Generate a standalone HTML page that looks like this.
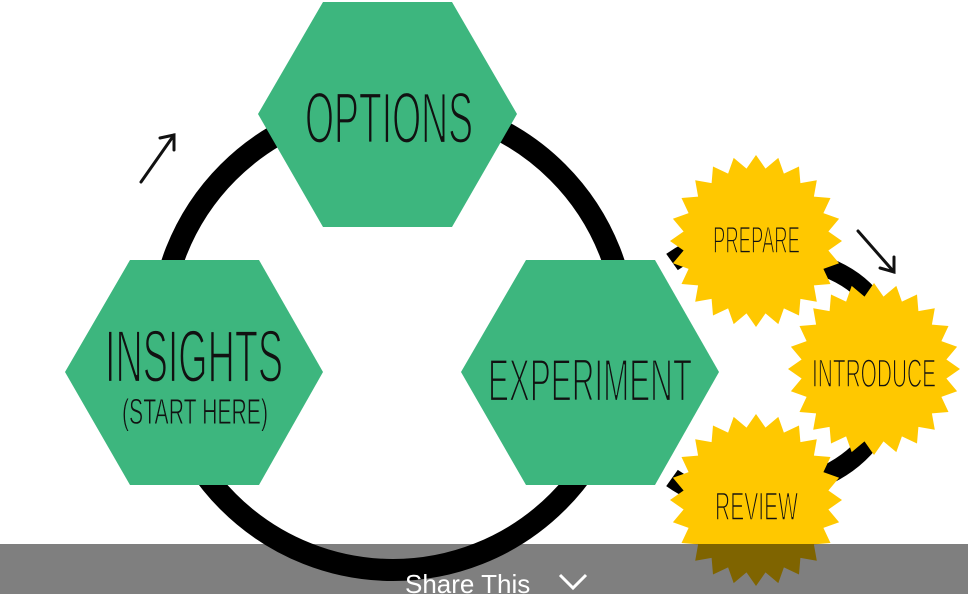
<!DOCTYPE html>
<html><head><meta charset="utf-8"><style>
html,body{margin:0;padding:0;background:#fff;width:968px;height:594px;overflow:hidden}
svg{display:block}
text{font-family:"Liberation Sans Narrow","Liberation Sans",sans-serif;fill:#111}
.g{stroke:#3db67e;stroke-width:2.2}
.g2{stroke:#3db67e;stroke-width:0.9}
.y{stroke:#ffc800;stroke-width:1.6}
</style></head><body>
<svg id="s" width="968" height="594" viewBox="0 0 968 594">
<circle cx="393" cy="337" r="233" fill="none" stroke="#000" stroke-width="22"/>
<path d="M672 262 Q710 235 760 240 M820 265 Q850 275 868 295 M868 443 Q850 465 820 478 M760 500 Q710 505 672 478" fill="none" stroke="#000" stroke-width="20"/>
<polygon points="258,114 323,2 452,2 517,114 452,227 323,227" fill="#3db67e"/>
<polygon points="65,372 130,260 259,260 323,372 259,485 130,485" fill="#3db67e"/>
<polygon points="461,372 526,260 655,260 719,372 655,485 526,485" fill="#3db67e"/>
<g id="stars"></g>
<text class="g" x="305" y="143" font-size="72" textLength="168" lengthAdjust="spacingAndGlyphs">OPTIONS</text>
<text class="g" x="105" y="382" font-size="74" textLength="178" lengthAdjust="spacingAndGlyphs">INSIGHTS</text>
<text class="g2" x="122" y="424" font-size="36" textLength="146" lengthAdjust="spacingAndGlyphs">(START HERE)</text>
<text class="g" x="488" y="401" font-size="60" textLength="204" lengthAdjust="spacingAndGlyphs">EXPERIMENT</text>
<text class="y" x="713" y="253" font-size="38" textLength="87" lengthAdjust="spacingAndGlyphs">PREPARE</text>
<text class="y" x="812" y="387" font-size="40" textLength="124" lengthAdjust="spacingAndGlyphs">INTRODUCE</text>
<text class="y" x="715" y="520" font-size="40" textLength="83" lengthAdjust="spacingAndGlyphs">REVIEW</text>
<g stroke="#111" stroke-width="3" fill="none" stroke-linecap="round">
<path d="M141 182 L174 135 M160 138 L174 135 L174 150"/>
<path d="M858 231 L894 272 M894 257 L894 272 L880 268"/>
</g>
<rect x="0" y="544" width="968" height="50" fill="#000" fill-opacity="0.5"/>
<text x="405" y="593" font-size="26" style="fill:#fff;font-family:'Liberation Sans',sans-serif">Share This</text>
<path d="M560 575 L573 588 L586 575" stroke="#fff" stroke-width="3" fill="none"/>
</svg>
<script>
var g=document.getElementById('stars');
[[756,241],[874,369],[756,500]].forEach(function(c){
var n=24,pts=[];
for(var i=0;i<2*n;i++){var r=i%2?73:86,a=Math.PI*i/n-Math.PI/2;pts.push((c[0]+r*Math.cos(a)).toFixed(1)+','+(c[1]+r*Math.sin(a)).toFixed(1));}
var p=document.createElementNS('http://www.w3.org/2000/svg','polygon');
p.setAttribute('points',pts.join(' '));p.setAttribute('fill','#ffc800');g.appendChild(p);});
</script>
</body></html>
